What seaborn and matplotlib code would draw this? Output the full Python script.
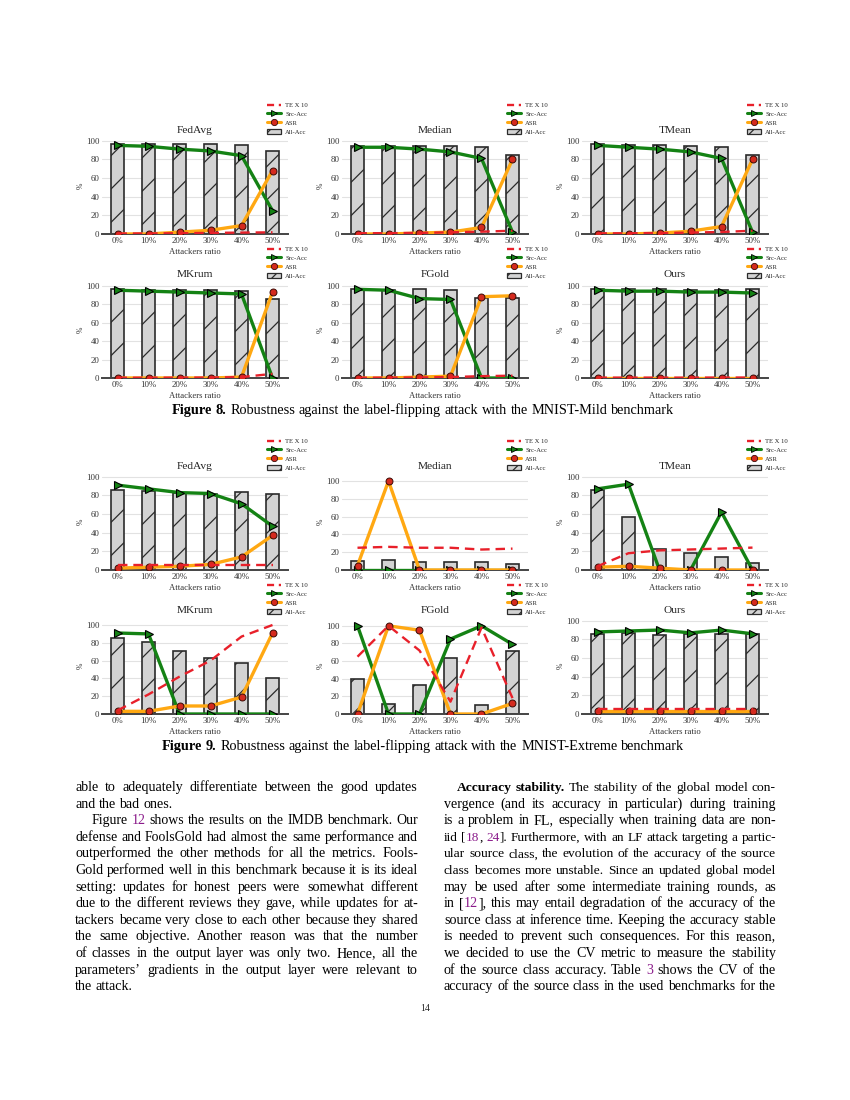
import re
import numpy as np
import matplotlib
matplotlib.use('Agg')
import matplotlib.pyplot as plt
import seaborn as sns
from matplotlib.lines import Line2D
from matplotlib.patches import Patch

ratios = ['0%', '10%', '20%', '30%', '40%', '50%']
methods = ['FedAvg', 'Median', 'TMean', 'MKrum', 'FGold', 'Ours']

# Figure 8: MNIST-Mild (rows follow `methods`)
mild_all_acc = [[96, 96, 96, 96, 95, 89],
                [94, 94, 94, 94, 93, 85],
                [96, 95, 95, 94, 93, 85],
                [96, 95, 95, 95, 94, 85],
                [96, 95, 96, 95, 87, 87],
                [96, 96, 96, 95, 95, 96]]
mild_src_acc = [[95, 94, 91, 89, 84, 25],
                [93, 93, 91, 88, 81, 2],
                [95, 93, 91, 88, 81, 2],
                [95, 94, 93, 92, 91, 0],
                [96, 95, 86, 85, 0, 0],
                [95, 94, 94, 93, 93, 92]]
mild_asr = [[0, 0, 2, 4, 9, 68],
            [0, 0, 1, 2, 7, 80],
            [0, 0, 1, 3, 8, 80],
            [0, 0, 0, 0, 1, 93],
            [0, 0, 1, 2, 88, 89],
            [0.5, 0.5, 0.5, 0.5, 0.5, 0.5]]
mild_te = [[0.5, 0.6, 0.8, 1.2, 1.5, 1.8],
           [0.8, 0.9, 1.2, 1.8, 2.5, 3.5],
           [0.7, 0.8, 1.0, 1.5, 2.2, 3.5],
           [0.3, 0.3, 0.4, 0.5, 1.0, 4.5],
           [0.3, 0.4, 0.6, 1.0, 2.0, 2.5],
           [0.4, 0.4, 0.4, 0.4, 0.5, 0.5]]

# Figure 9: MNIST-Extreme
ext_all_acc = [[86, 85, 83, 82, 84, 81],
               [10, 11, 9, 9, 9, 7],
               [86, 57, 22, 18, 14, 7],
               [85, 81, 71, 63, 57, 41],
               [40, 11, 33, 64, 10, 71],
               [86, 87, 85, 86, 86, 86]]
ext_src_acc = [[91, 87, 83, 82, 71, 47],
               [0, 0, 0, 0, 0, 0],
               [87, 92, 0, 0, 62, 0],
               [91, 90, 0, 0, 0, 0],
               [100, 0, 0, 85, 100, 79],
               [88, 89, 90, 87, 90, 86]]
ext_asr = [[2, 3, 4, 6, 14, 37],
           [5, 100, 0, 0, 0, 0],
           [3, 4, 2, 0, 0, 0],
           [3, 3, 9, 9, 19, 91],
           [0, 100, 95, 0, 0, 12],
           [3, 3, 3, 3, 3, 3]]
ext_te = [[5, 5, 5, 5, 5, 5],
          [25, 26, 25, 25, 23, 24],
          [4, 18, 21, 22, 23, 24],
          [4, 22, 42, 60, 87, 100],
          [65, 100, 72, 14, 98, 18],
          [5, 5, 5, 5, 5, 5]]

mild_ytop = [104, 104, 104, 105, 105, 105]
ext_ytop = [104, 109, 104, 109, 110, 104]

caption8 = '*Figure 8.* Robustness against the label-flipping attack with the MNIST-Mild benchmark'
caption9 = '*Figure 9.* Robustness against the label-flipping attack with the MNIST-Extreme benchmark'

left_col = [
    'able to adequately differentiate between the good updates',
    'and the bad ones.',
    'Figure {12} shows the results on the IMDB benchmark. Our',
    'defense and FoolsGold had almost the same performance and',
    'outperformed the other methods for all the metrics. Fools-',
    'Gold performed well in this benchmark because it is its ideal',
    'setting: updates for honest peers were somewhat different',
    'due to the different reviews they gave, while updates for at-',
    'tackers became very close to each other because they shared',
    'the same objective. Another reason was that the number',
    'of classes in the output layer was only two. Hence, all the',
    'parameters\u2019 gradients in the output layer were relevant to',
    'the attack.',
]
right_col = [
    '*Accuracy stability.* The stability of the global model con-',
    'vergence (and its accuracy in particular) during training',
    'is a problem in FL, especially when training data are non-',
    'iid [{18}, {24}]. Furthermore, with an LF attack targeting a partic-',
    'ular source class, the evolution of the accuracy of the source',
    'class becomes more unstable. Since an updated global model',
    'may be used after some intermediate training rounds, as',
    'in [{12}], this may entail degradation of the accuracy of the',
    'source class at inference time. Keeping the accuracy stable',
    'is needed to prevent such consequences. For this reason,',
    'we decided to use the CV metric to measure the stability',
    'of the source class accuracy. Table {3} shows the CV of the',
    'accuracy of the source class in the used benchmarks for the',
]

GREEN = '#148214'
ORANGE = '#ffa812'
RED = '#e8202a'
DOT = '#d42a1e'
GREY = '#d3d3d3'
EDGE = '#2b2b2b'
PURPLE = '#8a1a8a'

sns.set_theme(style='whitegrid')
plt.rcParams['font.family'] = ['Liberation Serif', 'DejaVu Serif']
plt.rcParams['hatch.color'] = EDGE
plt.rcParams['hatch.linewidth'] = 0.9

W, H = 850, 1100
fig = plt.figure(figsize=(8.5, 11), dpi=100)
fig.patch.set_facecolor('white')

col_x = [102, 342, 582]
row_top = [137, 281, 473, 617]
AX_W, AX_H = 186, 97


def draw_panel(ax, name, all_acc, src_acc, asr, te, ytop):
    pos = np.arange(len(ratios))
    sns.barplot(x=ratios, y=all_acc, ax=ax, color=GREY, saturation=1, width=0.45,
                edgecolor=EDGE, linewidth=1.2, hatch='/', zorder=2)
    sns.lineplot(x=pos, y=src_acc, ax=ax, color=GREEN, linewidth=2.4, marker='>',
                 markersize=5.5, markerfacecolor=GREEN, markeredgecolor='black',
                 markeredgewidth=0.8, zorder=4)
    sns.lineplot(x=pos, y=asr, ax=ax, color=ORANGE, linewidth=2.4, marker='o',
                 markersize=5, markerfacecolor=DOT, markeredgecolor='#3a0a05',
                 markeredgewidth=0.7, zorder=5)
    sns.lineplot(x=pos, y=te, ax=ax, color=RED, linewidth=1.7,
                 linestyle=(0, (4, 2.5)), zorder=6)
    ax.set_xlim(-0.5, 5.5)
    ax.set_ylim(0, ytop)
    ax.set_yticks([0, 20, 40, 60, 80, 100])
    ax.set_xticks(pos)
    ax.set_xticklabels(ratios)
    ax.set_facecolor('white')
    ax.grid(axis='y', color='#e2e2e2', linewidth=0.8)
    ax.grid(axis='x', visible=False)
    for s in ['left', 'right', 'top']:
        ax.spines[s].set_visible(False)
    ax.spines['bottom'].set_color('#444444')
    ax.spines['bottom'].set_linewidth(1.4)
    ax.tick_params(labelsize=6.3, pad=2, length=0, colors='#333333')
    ax.set_title(name, fontsize=8.2, pad=3, color='#222222')
    ax.set_xlabel('Attackers ratio', fontsize=6.2, labelpad=2, color='#333333')
    ax.set_ylabel('%', fontsize=5.5, labelpad=1, color='#333333')

    handles = [
        Line2D([], [], color=RED, linewidth=1.7, linestyle=(0, (3, 2))),
        Line2D([], [], color=GREEN, linewidth=2.2, marker='>', markersize=4.5,
               markerfacecolor=GREEN, markeredgecolor='black', markeredgewidth=0.6),
        Line2D([], [], color=ORANGE, linewidth=2.2, marker='o', markersize=4.5,
               markerfacecolor=DOT, markeredgecolor='#3a0a05', markeredgewidth=0.6),
        Patch(facecolor=GREY, edgecolor=EDGE, hatch='//', linewidth=0.9),
    ]
    ax.legend(handles, ['TE X 10', 'Src-Acc', 'ASR', 'All-Acc'], loc='upper left',
              bbox_to_anchor=(0.885, 1.36), frameon=False, fontsize=4.8,
              handlelength=2.2, handleheight=0.8, labelspacing=0.45,
              handletextpad=0.6, borderaxespad=0, borderpad=0)


blocks = [(mild_all_acc, mild_src_acc, mild_asr, mild_te, mild_ytop, 0),
          (ext_all_acc, ext_src_acc, ext_asr, ext_te, ext_ytop, 2)]
for all_acc, src_acc, asr, te, ytop, r0 in blocks:
    for i, name in enumerate(methods):
        r = r0 + i // 3
        c = i % 3
        ax = fig.add_axes([col_x[c] / W, 1 - (row_top[r] + AX_H) / H, AX_W / W, AX_H / H])
        draw_panel(ax, name, all_acc[i], src_acc[i], asr[i], te[i], ytop[i])

# ---- page text ----
renderer = fig.canvas.get_renderer()


def segments(line):
    out = []
    for part in re.split(r'(\{[^}]*\}|\*[^*]*\*)', line):
        if not part:
            continue
        if part.startswith('{'):
            out.append((part[1:-1], 'normal', PURPLE))
        elif part.startswith('*'):
            out.append((part[1:-1], 'bold', 'black'))
        else:
            out.append((part, 'normal', 'black'))
    return out


def line_words(line):
    words = [[]]
    for txt, wt, col in segments(line):
        for k, p in enumerate(txt.split(' ')):
            if k > 0:
                words.append([])
            if p:
                words[-1].append((p, wt, col))
    return [w for w in words if w]


def text_width(s, size, weight='normal'):
    t = fig.text(0, 0, s, fontsize=size, weight=weight)
    w = t.get_window_extent(renderer).width
    t.remove()
    return w


def word_layout(word, size):
    # offsets of each segment measured on the prefix, so spacing inside a word stays natural
    offs = []
    prefix = ''
    for s, wt, col in word:
        offs.append(text_width(prefix + 'x', size, wt) - text_width('x', size, wt) if prefix else 0.0)
        prefix += s
    full = text_width(prefix, size, word[0][1])
    return offs, full


def space_width(size):
    return text_width('a a', size) - text_width('aa', size)


def natural_width(line, size):
    words = line_words(line)
    return sum(word_layout(w, size)[1] for w in words) + space_width(size) * (len(words) - 1)


def draw_line(line, x0, y, size, x1=None):
    words = line_words(line)
    if x1 is not None:
        while natural_width(line, size) > (x1 - x0) * 0.995 and size > 6:
            size -= 0.1
    layouts = [word_layout(w, size) for w in words]
    total = sum(full for offs, full in layouts)
    if x1 is not None and len(words) > 1:
        gap = (x1 - x0 - total) / (len(words) - 1)
    else:
        gap = space_width(size)
    x = x0
    for w, (offs, full) in zip(words, layouts):
        for (s, wt, col), off in zip(w, offs):
            fig.text((x + off) / W, 1 - y / H, s, fontsize=size, weight=wt, color=col,
                     va='baseline', ha='left')
        x += full + gap


for cap, y in [(caption8, 414), (caption9, 750)]:
    size = 10.3
    wcap = natural_width(cap, size)
    draw_line(cap, 423 - wcap / 2, y, size)

BODY = 10.1
LEAD = 16.6
BASE = 791
for i, line in enumerate(left_col):
    indent = 17 if i == 2 else 0
    last = i in (1, len(left_col) - 1)
    draw_line(line, 75 + indent, BASE + i * LEAD, BODY, None if last else 418)
for i, line in enumerate(right_col):
    indent = 13 if i == 0 else 0
    draw_line(line, 444 + indent, BASE + i * LEAD, BODY, 776)

fig.text(425 / W, 1 - 1011 / H, '14', fontsize=7, ha='center', va='baseline')

fig.savefig('out.png', dpi=100, facecolor='white')
